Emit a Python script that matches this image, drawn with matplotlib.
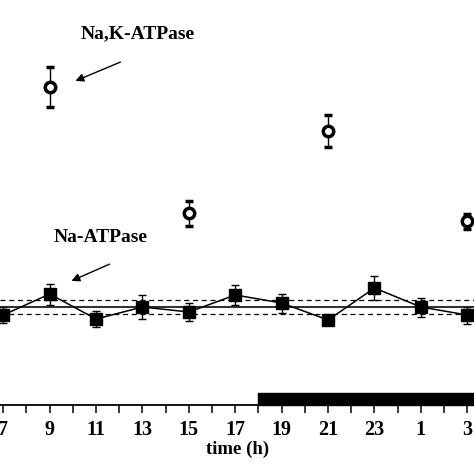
import matplotlib
matplotlib.use("Agg")
import matplotlib.pyplot as plt
from matplotlib.patches import Rectangle

# time of day (h), 25 = 1 h and 27 = 3 h of the next day
hours_na = [7, 9, 11, 13, 15, 17, 19, 21, 23, 25, 27]
na_atpase = [9.0, 11.1, 8.6, 9.8, 9.3, 11.0, 10.2, 8.5, 11.7, 9.8, 9.0]
na_err = [0.8, 1.05, 0.8, 1.2, 0.9, 1.0, 0.95, 0.3, 1.2, 0.95, 0.85]

hours_nak = [9, 15, 21, 27]
nak_atpase = [31.8, 19.2, 27.4, 18.4]
nak_err = [2.0, 1.25, 1.6, 0.75]

na_mean = 9.77
na_band = (9.1, 10.5)
dark_start = 18

tick_hours = list(range(7, 28))
tick_labels = [str(h % 24) if h % 2 else "" for h in tick_hours]

plt.rcParams["font.family"] = ["Liberation Serif", "DejaVu Serif"]
plt.rcParams["font.weight"] = "bold"

fig = plt.figure(figsize=(4.74, 4.74), dpi=100)
ax = fig.add_axes([0, 69 / 474, 1, 405 / 474])
ax.set_xlim(6.858, 27.29)
ax.set_ylim(0, 40.5)

ax.axhline(na_mean, color="0.2", lw=1.5)
for b in na_band:
    ax.axhline(b, color="black", lw=0.9, ls=(0, (4, 3)))

ax.errorbar(hours_na, na_atpase, yerr=na_err, fmt="s-", color="black", ms=8.5,
            lw=1.1, elinewidth=1.0, capsize=3, capthick=1.0, zorder=4)
ax.errorbar(hours_nak, nak_atpase, yerr=nak_err, fmt="o", mfc="white", mec="black",
            mew=2.5, ms=7.5, ecolor="black", elinewidth=1.0, capsize=3, capthick=1.0, zorder=4)

ax.add_patch(Rectangle((dark_start, 0), 12, 1.2, color="black", clip_on=False, zorder=3))

ax.text(12.78, 37.1, "Na,K-ATPase", ha="center", va="center", fontsize=14, fontweight="bold")
ax.annotate("", xy=(10.0, 32.3), xytext=(12.16, 34.4),
            arrowprops=dict(arrowstyle="-|>", color="black", lw=1.0, mutation_scale=12))
ax.text(11.19, 16.7, "Na-ATPase", ha="center", va="center", fontsize=14, fontweight="bold")
ax.annotate("", xy=(9.83, 12.3), xytext=(11.69, 14.2),
            arrowprops=dict(arrowstyle="-|>", color="black", lw=1.0, mutation_scale=12))

for s in ["left", "right", "top"]:
    ax.spines[s].set_visible(False)
ax.spines["bottom"].set_linewidth(1.3)
ax.set_yticks([])
ax.set_xticks(tick_hours)
ax.set_xticklabels(tick_labels, fontsize=14.5, fontweight="bold")
ax.tick_params(axis="x", direction="out", length=6, width=1.1, pad=4.5)

fig.text(238 / 474, 1 - 449 / 474, "time (h)", ha="center", va="center",
         fontsize=13.5, fontweight="bold")

fig.savefig("out.png", dpi=100)
